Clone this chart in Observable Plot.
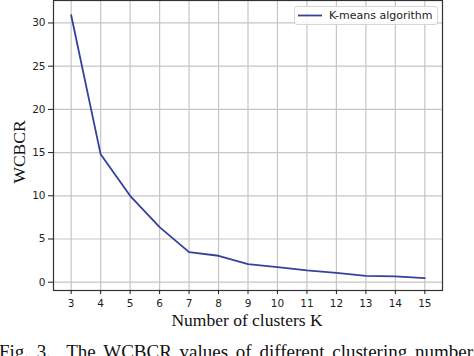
<!DOCTYPE html>
<html><head><meta charset="utf-8">
<script src="https://cdn.jsdelivr.net/npm/d3@7"></script>
<script src="https://cdn.jsdelivr.net/npm/@observablehq/plot@0.6"></script>
<style>
html,body{margin:0;padding:0;background:#fff;overflow:hidden;}
#chart svg{display:block;}
</style>
</head><body><div id="chart"></div>
<script>
const clusters = [3,4,5,6,7,8,9,10,11,12,13,14,15];
const wcbcr = [30.9,14.8,10.0,6.37,3.48,3.06,2.1,1.74,1.36,1.08,0.73,0.67,0.47];
const yTicks = [0,5,10,15,20,25,30];
const seriesName = "K-means algorithm";
const xLabel = "Number of clusters K";
const yLabel = "WCBCR";
const caption = "Fig. 3.  The WCBCR values of different clustering numbers";

const data = clusters.map((k,i)=>({k, v: wcbcr[i]}));

const W = 474, H = 356;
const plot = Plot.plot({
  width: W, height: H,
  marginLeft: 53, marginRight: 32, marginTop: 0, marginBottom: 66,
  style: {fontFamily: "DejaVu Sans", fontSize: "10.5px", color: "#1e1e1e", background: "#fff"},
  x: {domain: [2.4, 15.6], label: null},
  y: {domain: [-0.96, 32.6], label: null},
  marks: [
    Plot.gridX(clusters, {stroke: "#c6c6c6", strokeOpacity: 1, strokeWidth: 1.2}),
    Plot.gridY(yTicks, {stroke: "#c6c6c6", strokeOpacity: 1, strokeWidth: 1.2}),
    Plot.line(data, {x: "k", y: "v", stroke: "#33429b", strokeWidth: 1.8}),
    Plot.frame({stroke: "#333", strokeWidth: 1.2}),
    Plot.axisX({ticks: clusters, tickFormat: d=>String(d), tickSize: 4, tickPadding: 5, label: null, fontSize: 10.5}),
    Plot.axisY({ticks: yTicks, tickSize: 5, tickPadding: 3, label: null, fontSize: 10.5})
  ]
});
document.getElementById("chart").appendChild(plot);

const svg = d3.select(plot);
// axis labels
svg.append("text").attr("x", 247).attr("y", 326).attr("text-anchor","middle")
  .attr("font-family","Liberation Serif").attr("font-size","17.5px").attr("fill","#111").text(xLabel);
svg.append("text").attr("transform","translate(24.5,152) rotate(-90)").attr("text-anchor","middle")
  .attr("font-family","Liberation Serif").attr("font-size","17.5px").attr("fill","#111").text(yLabel);
// caption (cut by bottom edge as in the reference)
svg.append("text").attr("x", -1).attr("y", 358).attr("text-anchor","start")
  .attr("font-family","Liberation Serif").attr("font-size","19px").attr("fill","#111")
  .attr("word-spacing","3px").attr("xml:space","preserve").style("white-space","pre").text(caption);
// legend
const lg = svg.append("g");
lg.append("rect").attr("x",294.5).attr("y",6.5).attr("width",143).attr("height",18).attr("rx",2.5)
  .attr("fill","#fff").attr("fill-opacity",0.85).attr("stroke","#d6d6d6");
lg.append("line").attr("x1",298).attr("x2",322).attr("y1",15.5).attr("y2",15.5).attr("stroke","#33429b").attr("stroke-width",1.8);
lg.append("text").attr("x",329).attr("y",15.5).attr("dy","0.35em").attr("text-anchor","start").attr("font-family","DejaVu Sans")
  .attr("font-size","11px").attr("fill","#222").text(seriesName);
</script>
</body></html>
